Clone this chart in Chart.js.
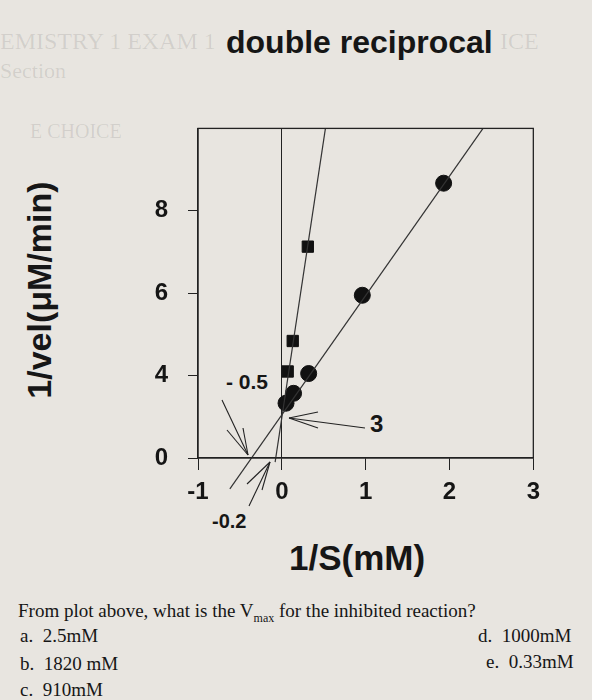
<!DOCTYPE html>
<html>
<head>
<meta charset="utf-8">
<script src="https://cdn.jsdelivr.net/npm/chart.js@4"></script>
<style>
  body { margin:0; width:592px; height:700px; background:#e8e5e0; position:relative; overflow:hidden; font-family:"Liberation Sans", Arial, sans-serif; color:#161616; }
  .abs { position:absolute; white-space:nowrap; }
  .wm { color:rgba(60,60,60,0.13); font-family:"Liberation Serif", serif; }
  .q { font-family:"Liberation Serif", "Times New Roman", serif; font-size:19px; }
  #box { position:absolute; left:100px; top:94px; width:448px; height:434px; }
</style>
</head>
<body>
<div class="abs wm" style="left:0;top:28px;font-size:24px;">EMISTRY 1 EXAM 1</div>
<div class="abs wm" style="left:0;top:58px;font-size:22px;">Section</div>
<div class="abs wm" style="left:30px;top:120px;font-size:20px;">E CHOICE</div>
<div class="abs wm" style="left:500px;top:28px;font-size:24px;">ICE</div>
<div class="abs" style="left:226px;top:24px;font-size:32px;font-weight:bold;">double reciprocal</div>
<div class="abs" style="left:20px;top:290px;font-size:34px;font-weight:bold;transform:rotate(-90deg) translate(-50%,0);transform-origin:0 0;">1/vel(μM/min)</div>
<div class="abs" style="left:289px;top:538px;font-size:35px;font-weight:bold;">1/S(mM)</div>
<div class="abs" style="left:212px;top:510px;font-size:20px;font-weight:bold;">-0.2</div>
<div class="abs" style="left:226px;top:370px;font-size:21px;font-weight:bold;">- 0.5</div>
<div class="abs" style="left:370px;top:410px;font-size:24px;font-weight:bold;">3</div>
<div class="abs q" style="left:18px;top:600px;">From plot above, what is the V<sub style="font-size:12px">max</sub> for the inhibited reaction?</div>
<div class="abs q" style="left:20px;top:625px;">a.&nbsp; 2.5mM</div>
<div class="abs q" style="left:20px;top:653px;">b.&nbsp; 1820 mM</div>
<div class="abs q" style="left:20px;top:679px;">c.&nbsp; 910mM</div>
<div class="abs q" style="left:478px;top:625px;">d.&nbsp; 1000mM</div>
<div class="abs q" style="left:486px;top:651px;">e.&nbsp; 0.33mM</div>
<div id="box"><canvas id="c"></canvas></div>
<script>
const xTicks = [-1, 0, 1, 2, 3];
const yTicks = [2, 4, 6, 8];
const yTickLabels = ['0', '4', '6', '8'];
const circleX = [0.05, 0.14, 0.32, 0.96, 1.93];
const circleY = [3.33, 3.57, 4.05, 5.95, 8.67];
const squareX = [0.07, 0.13, 0.31];
const squareY = [4.1, 4.84, 7.13];
const lineAX = [-0.62, 2.4];
const lineAY = [1.25, 10];
const lineBX = [-0.08, 0.52];
const lineBY = [1.9, 10];

const pts = (xs, ys) => xs.map((x, i) => ({x: x, y: ys[i]}));

const frame = {
  id: 'frame',
  afterDraw(chart) {
    const {ctx, chartArea: a} = chart;
    ctx.save();
    ctx.strokeStyle = '#222'; ctx.lineWidth = 1.3;
    ctx.strokeRect(a.left, a.top, a.right - a.left, a.bottom - a.top);
    // hand-drawn arrows
    const ox = 100, oy = 94;
    const seg = (x1, y1, x2, y2) => { ctx.beginPath(); ctx.moveTo(x1-ox, y1-oy); ctx.lineTo(x2-ox, y2-oy); ctx.stroke(); };
    ctx.lineWidth = 1.1;
    seg(222, 400, 248, 455); seg(227, 430, 248, 455); seg(243, 428, 248, 455);
    seg(365, 428, 289, 418); seg(318, 412, 289, 418); seg(318, 428, 289, 418);
    seg(249, 506, 270, 462); seg(247, 484, 270, 462); seg(262, 490, 270, 462);
    ctx.restore();
  }
};

const font = {family: '"Liberation Sans", Arial', size: 24, weight: 'bold'};
new Chart(document.getElementById('c'), {
  type: 'scatter',
  data: {
    datasets: [
      {data: pts(lineAX, lineAY), showLine: true, pointRadius: 0, borderColor: '#333', borderWidth: 1.2, clip: false},
      {data: pts(lineBX, lineBY), showLine: true, pointRadius: 0, borderColor: '#333', borderWidth: 1.2, clip: false},
      {data: pts(circleX, circleY), pointRadius: 8, pointStyle: 'circle', backgroundColor: '#111', borderColor: '#111'},
      {data: pts(squareX, squareY), pointRadius: 8, pointStyle: 'rect', backgroundColor: '#111', borderColor: '#111'}
    ]
  },
  options: {
    responsive: true, maintainAspectRatio: false, animation: false,
    layout: {padding: {top: 0, right: 10, bottom: 0, left: 0}},
    plugins: {legend: {display: false}, tooltip: {enabled: false}},
    scales: {
      x: {
        type: 'linear', min: -1, max: 3,
        afterBuildTicks: s => { s.ticks = xTicks.map(v => ({value: v})); },
        afterFit: s => { s.height = 70; },
        grid: {color: c => c.tick && c.tick.value === 0 ? '#222' : 'transparent', tickColor: '#222', tickLength: 12, drawOnChartArea: true},
        border: {color: '#222', width: 1.3},
        ticks: {color: '#151515', font: font, padding: 8}
      },
      y: {
        type: 'linear', min: 2, max: 10,
        afterBuildTicks: s => { s.ticks = yTicks.map(v => ({value: v})); },
        afterFit: s => { s.width = 98; },
        grid: {color: 'transparent', tickColor: '#222', tickLength: 10},
        border: {color: '#222', width: 1.3},
        ticks: {color: '#151515', font: font, padding: 20, callback: v => yTickLabels[yTicks.indexOf(v)]}
      }
    }
  },
  plugins: [frame]
});
</script>
</body>
</html>
